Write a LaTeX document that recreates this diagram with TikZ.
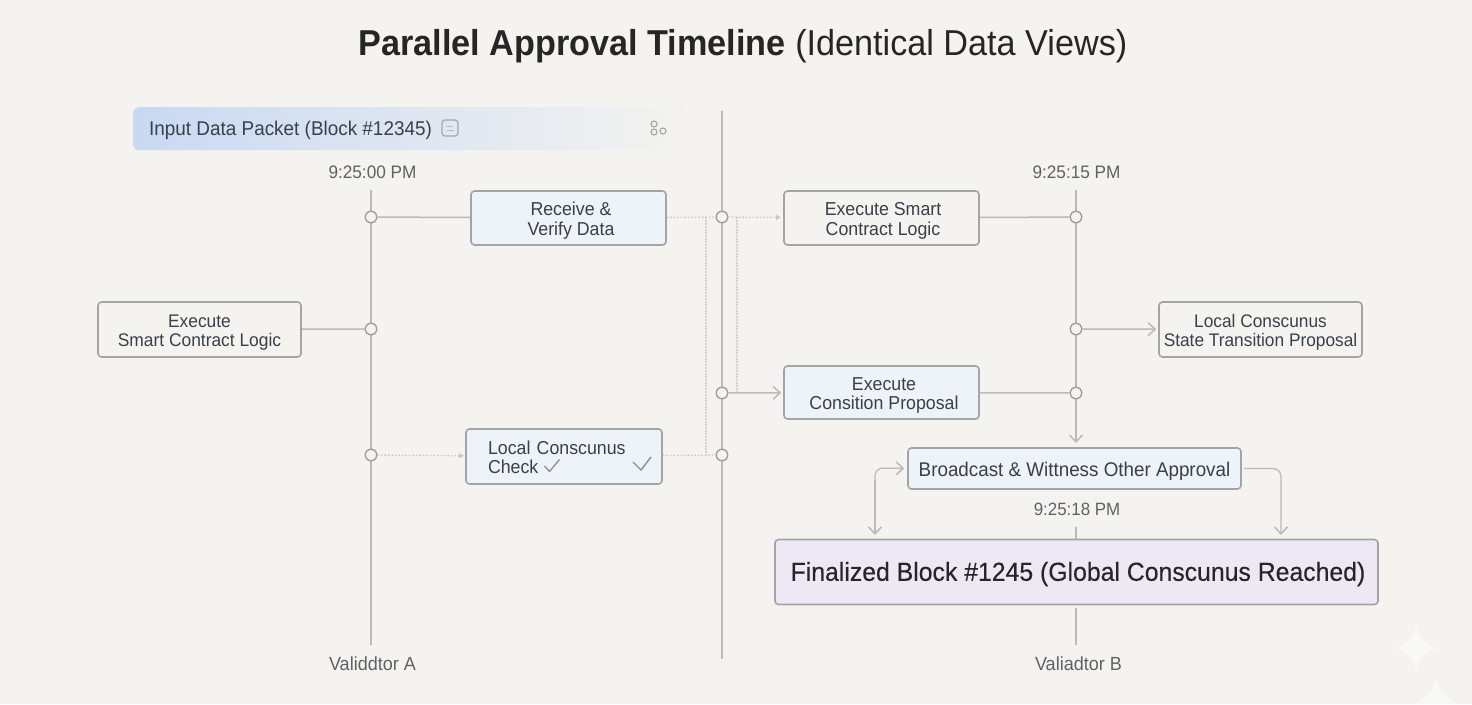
\documentclass[tikz,border=0pt]{standalone}
\usepackage{fontspec}
\setmainfont[FakeStretch=0.95]{Liberation Sans}
\usetikzlibrary{arrows.meta}
\definecolor{bg}{HTML}{F4F3EF}
\definecolor{ln}{HTML}{BBBAB5}
\definecolor{bd}{HTML}{A2A4A6}
\definecolor{tx}{HTML}{39404A}
\definecolor{tm}{HTML}{5F6265}
\definecolor{wm}{HTML}{F8F8F5}
\definecolor{barc}{HTML}{C9D9F3}
\definecolor{barm}{HTML}{E1E8F5}
\definecolor{boxc}{HTML}{EEF2F9}
\definecolor{finc}{HTML}{EEE8F5}
\newcommand{\nudge}{\hspace*{5pt}}
\newcommand{\up}{\rule{0pt}{19pt}}
\tikzset{
 x=1pt,y=-1pt,
 fs/.style={font=\fontsize{#1}{19.5}\selectfont},
 lift/.style={execute at begin node={\leavevmode\rule{0pt}{#1pt}}},
 box/.style={draw=bd,line width=1.6pt,rounded corners=3.5pt,inner sep=0pt,align=center,text=tx,fs=18.7},
 plain/.style={box,fill=bg},
 tbox/.style={box,fill=boxc},
 time/.style={text=tm,fs=18.1,inner sep=0pt},
 dot/.style={circle,draw=ln!85!black,fill=bg,line width=1.4pt,minimum size=11.5pt,inner sep=0pt},
 tl/.style={draw=ln,line width=1.6pt},
 link/.style={draw=ln,line width=1.5pt},
 dots/.style={draw=ln!75!bg,line width=1.3pt,dash pattern=on 1.5pt off 2pt},
 dots2/.style={draw=ln!60!bg,line width=1.3pt,dash pattern=on 1.5pt off 1.5pt},
 open/.style={-{Straight Barb[length=7pt,width=13pt,line width=1.5pt]}},
 small/.style={-{Latex[length=5pt,width=6pt]}},
}
\begin{document}
\begin{tikzpicture}
\useasboundingbox (0,0) rectangle (1472,704);
\fill[bg] (0,0) rectangle (1472,704);
% watermark
\fill[wm] (1416,624) .. controls (1419,640) and (1424,645) .. (1440,648) .. controls (1424,651) and (1419,656) .. (1416,672) .. controls (1413,656) and (1408,651) .. (1392,648) .. controls (1408,645) and (1413,640) .. (1416,624) -- cycle;
\fill[wm] (1436,678) .. controls (1438,690) and (1446,698) .. (1458,704) -- (1414,704) .. controls (1426,698) and (1434,690) .. (1436,678) -- cycle;
% title
\node[text=black!85,inner sep=0pt,fs=36] (title) at (743,46.5) {\textbf{Parallel Approval Timeline} (Identical Data Views)};
% input bar
\node[rounded corners=5pt,left color=barc,middle color=barm,right color=bg,minimum width=560pt,minimum height=43pt,inner sep=0pt,anchor=north west] (bar) at (133,107) {};
\node[anchor=west,text=tx,fs=19.9,inner sep=0pt] (bartext) at (149,130) {Input Data Packet (Block \#12345)};
\node[draw=ln!90!black,rounded corners=3pt,line width=1.2pt,minimum size=16pt,inner sep=0pt] (icona) at (450,128) {};
\draw[ln,line width=1pt] (446,126) -- (453,126) (447,130) -- (454,130);
\node[circle,draw=ln!90!black,line width=1.2pt,minimum size=6pt,inner sep=0pt] (ib1) at (654,124) {};
\node[circle,draw=ln!90!black,line width=1.2pt,minimum size=6pt,inner sep=0pt] (ib2) at (654,132) {};
\node[circle,draw=ln!90!black,line width=1.2pt,minimum size=6pt,inner sep=0pt] (ib3) at (663,131) {};
% timeline anchors
\coordinate (aT) at (371,190); \coordinate (aB) at (371,645);
\coordinate (mT) at (722,111); \coordinate (mB) at (722,659);
\coordinate (bT) at (1076,190); \coordinate (bE) at (1076,443);
\coordinate (b2T) at (1076,527); \coordinate (b2E) at (1076,540); \coordinate (b3T) at (1076,608); \coordinate (b3B) at (1076,645);
\draw[tl] (aT) -- (aB);
\draw[tl] (mT) -- (mB);
\draw[tl,open] (bT) -- (bE);
\draw[tl,line width=1.2pt] (b2T) -- (b2E);
\draw[tl,line width=1.2pt] (b3T) -- (b3B);
% dots
\node[dot] (a1) at (371,217) {};
\node[dot] (a2) at (371,329) {};
\node[dot] (a3) at (371,455) {};
\node[dot] (m1) at (722,217) {};
\node[dot] (m2) at (722,393) {};
\node[dot] (m3) at (722,455) {};
\node[dot] (b1) at (1076,217) {};
\node[dot] (b2) at (1076,329) {};
\node[dot] (b3) at (1076,393) {};
% boxes
\node[tbox,minimum width=195pt,minimum height=54pt] (recv) at (568.5,218) {\up\nudge Receive \&\\\nudge Verify Data};
\node[plain,minimum width=195pt,minimum height=54pt] (exr) at (881.5,218) {\up\hspace*{3pt}Execute Smart\\\hspace*{3pt}Contract Logic};
\node[plain,minimum width=203pt,minimum height=55pt,fs=18.3] (exl) at (199.5,329.5) {\up Execute\\Smart Contract Logic};
\node[plain,minimum width=203pt,minimum height=55pt,fs=18.2] (lcs) at (1260.5,329.5) {\up Local Conscunus\\State Transition Proposal};
\node[tbox,minimum width=195pt,minimum height=53pt] (exc) at (881.5,392.5) {\up\nudge Execute\\\nudge Consition Proposal};
\node[tbox,minimum width=196pt,minimum height=55pt,inner xsep=22pt,text width=152pt,align=left,lift=15] (lcc) at (564,456.5) {Local Conscunus\\Check};
\node[tbox,minimum width=333pt,minimum height=41pt,fs=19.8,lift=20.5] (brd) at (1074.5,468.5) {Broadcast \& Wittness Other Approval};
\node[box,fill=finc,minimum width=603pt,minimum height=65pt,fs=26.1,text=black!85,lift=23] (fin) at (1076.5,572) {\hspace*{3pt}\addfontfeature{FakeBold=0.3}Finalized Block \#1245 (Global Conscunus Reached)};
% checks
\draw[tm!70!bg,line width=1.3pt] (544.5,466) -- (549.5,471.5) -- (559.5,459.5);
\draw[tm!70!bg,line width=1.4pt] (633,462) -- (641,470) -- (651,457);
% times and labels
\node[time] (t1) at (372.5,172.5) {9:25:00 PM};
\node[time] (t2) at (1076.5,172.5) {9:25:15 PM};
\node[time,fs=17.8] (t3) at (1077,509.5) {9:25:18 PM};
\node[time,fs=19] (va) at (372.5,664) {Validdtor A};
\node[time,fs=19] (vb) at (1078.5,664) {Valiadtor B};
% connectors
\draw[link] (a1) -- (recv);
\draw[link] (exl) -- (a2);
\draw[link] (exr) -- (b1);
\draw[link] (exc) -- (b3);
\draw[link,open,shorten >=2pt] (b2) -- (lcs);
\draw[link,open,shorten >=2pt] (m2) -- (exc);
\draw[dots] (recv) -- (m1);
\draw[dots] (lcc) -- (m3);
\draw[dots,small,shorten >=2pt] (m1) -- (exr);
\draw[dots,small,shorten >=1pt] (a3) -- (lcc);
\coordinate (v1t) at (706,217); \coordinate (v1b) at (706,455);
\coordinate (v2t) at (737,217); \coordinate (v2b) at (737,392);
\draw[dots2] (v1t) -- (v1b);
\draw[dots2] (v2t) -- (v2b);
\coordinate (fl) at (875,535); \coordinate (fr) at (1281,535);
\coordinate (cl) at (875,468);
\coordinate (cr) at (1281,468.5);
\draw[link,line width=1.3pt,open,rounded corners=8pt,shorten >=3pt] (875,480) -- (cl) -- (brd.west);
\draw[link,line width=1.3pt,open] (875,480) -- (fl);
\draw[link,line width=1.3pt,open,rounded corners=8pt,shorten <=2pt] (brd.east) -- (cr) -- (fr);
\end{tikzpicture}
\end{document}
